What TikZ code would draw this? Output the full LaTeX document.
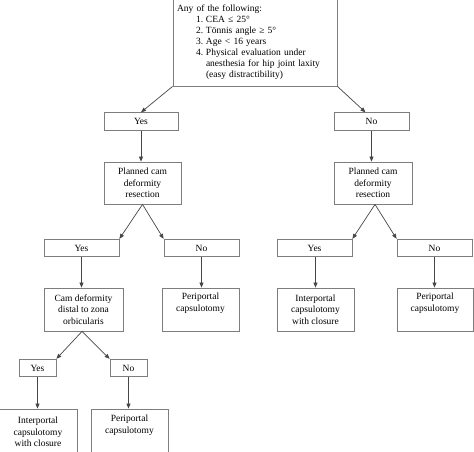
\documentclass[tikz,border=0pt]{standalone}
\usepackage{fontspec}
\setmainfont{Liberation Serif}
\usetikzlibrary{arrows.meta}
\definecolor{boxgray}{RGB}{125,125,125}
\definecolor{arrgray}{RGB}{70,70,70}
\begin{document}
\begin{tikzpicture}[x=1pt,y=1pt,
  box/.style={draw=boxgray, line width=0.8pt, inner sep=0pt, align=center,
    font=\fontsize{9.5}{11.7}\selectfont},
  smallbox/.style={box, minimum height=17.5pt},
  bigbox/.style={box, minimum height=43pt},
  arr/.style={draw=arrgray, line width=0.7pt, -{Triangle[length=5pt,width=4pt]}}]
\useasboundingbox (0,0) rectangle (474,-452);
% top box
\node[box, minimum width=164pt, minimum height=88pt, text width=156pt, inner xsep=4pt,
  align=left, font=\fontsize{9.5}{11}\selectfont] (top) at (255,-42)
  {Any of the following:\\
   \hspace*{19pt}\makebox[10pt][l]{1.}CEA ≤ 25°\\
   \hspace*{19pt}\makebox[10pt][l]{2.}Tönnis angle ≥ 5°\\
   \hspace*{19pt}\makebox[10pt][l]{3.}Age < 16 years\\
   \hspace*{19pt}\makebox[10pt][l]{4.}Physical evaluation under\\
   \hspace*{29pt}anesthesia for hip joint laxity\\
   \hspace*{29pt}(easy distractibility)};
% level 1
\node[smallbox, minimum width=74pt] (yes1) at (141,-121.5) {Yes};
\node[smallbox, minimum width=75pt] (no1) at (371.5,-121.5) {No};
% level 2
\node[box, minimum width=77pt, minimum height=42pt] (planL) at (142.5,-183) {Planned cam\\deformity\\resection};
\node[box, minimum width=78pt, minimum height=42pt] (planR) at (373,-183) {Planned cam\\deformity\\resection};
% level 3
\node[smallbox, minimum width=75pt] (yesL) at (81.5,-248) {Yes};
\node[smallbox, minimum width=75pt] (noL) at (201.5,-248) {No};
\node[smallbox, minimum width=75pt] (yesR) at (314.5,-248) {Yes};
\node[smallbox, minimum width=75pt] (noR) at (434.5,-248) {No};
% level 4
\node[bigbox, minimum width=79pt] (cam) at (83.5,-309.5) {Cam deformity\\distal to zona\\orbicularis};
\node[bigbox, minimum width=77pt] (periL) at (200.5,-309.5) {Periportal\\capsulotomy\\\strut};
\node[bigbox, minimum width=77pt] (interR) at (315.5,-309.5) {Interportal\\capsulotomy\\with closure};
\node[bigbox, minimum width=76pt] (periR) at (435,-309.5) {Periportal\\capsulotomy\\\strut};
% level 5
\node[smallbox, minimum width=37pt] (yesB) at (37.5,-368) {Yes};
\node[smallbox, minimum width=37pt] (noB) at (128.5,-368) {No};
% level 6
\node[box, minimum width=78pt, minimum height=46pt] (interB) at (38,-432) {Interportal\\capsulotomy\\with closure};
\node[box, minimum width=77pt, minimum height=46pt] (periB) at (129.5,-432) {Periportal\\capsulotomy\\\strut};
% connectors
\draw[arr] (top.south west) -- (yes1.north);
\draw[arr] (top.south east) -- ([xshift=-6pt]no1.north);
\draw[arr] (yes1.south) -- (yes1.south |- planL.north);
\draw[arr] (no1.south) -- (no1.south |- planR.north);
\draw[arr] (planL.south) -- (yesL.north east);
\draw[arr] (planL.south) -- (noL.north west);
\draw[arr] ([xshift=2pt]planR.south) -- (yesR.north east);
\draw[arr] ([xshift=2pt]planR.south) -- (noR.north west);
\draw[arr] (yesL.south) -- (yesL.south |- cam.north);
\draw[arr] (noL.south) -- (noL.south |- periL.north);
\draw[arr] ([xshift=1pt]yesR.south) -- ([xshift=1pt]yesR.south |- interR.north);
\draw[arr] (noR.south) -- (noR.south |- periR.north);
\draw[arr] ([xshift=-1.5pt]cam.south) -- (yesB.north east);
\draw[arr] ([xshift=-1.5pt]cam.south) -- (noB.north west);
\draw[arr] (yesB.south) -- (yesB.south |- interB.north);
\draw[arr] (noB.south) -- (noB.south |- periB.north);
\end{tikzpicture}
\end{document}
